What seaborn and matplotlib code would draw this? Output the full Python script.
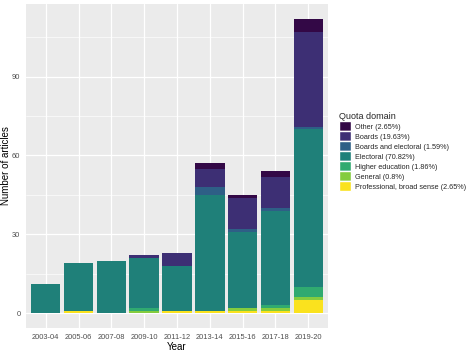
import numpy as np
import pandas as pd
import matplotlib
matplotlib.use("Agg")
import matplotlib.pyplot as plt
import matplotlib.patches as mpatches
import seaborn as sns

years = ["2003-04", "2005-06", "2007-08", "2009-10", "2011-12",
         "2013-14", "2015-16", "2017-18", "2019-20"]
professional = [0, 1, 0, 0, 1, 1, 1, 1, 5]
general = [0, 0, 0, 1, 0, 0, 1, 1, 1]
higher_ed = [0, 0, 0, 1, 0, 0, 0, 1, 4]
electoral = [11, 18, 20, 19, 17, 44, 29, 36, 60]
boards_electoral = [0, 0, 0, 0, 0, 3, 1, 1, 1]
boards = [0, 0, 0, 1, 5, 7, 12, 12, 36]
other = [0, 0, 0, 0, 0, 2, 1, 2, 5]

domains = ["Professional, broad sense (2.65%)", "General (0.8%)",
           "Higher education (1.86%)", "Electoral (70.82%)",
           "Boards and electoral (1.59%)", "Boards (19.63%)", "Other (2.65%)"]
series = [professional, general, higher_ed, electoral, boards_electoral, boards, other]
colors = ["#FAE21E", "#84CC3E", "#30AA70", "#1F8079", "#2E5F86", "#3D2F74", "#330846"]

rows = []
for d, s in zip(domains, series):
    for y, v in zip(years, s):
        rows.append({"Year": y, "domain": d, "n": v})
df = pd.DataFrame(rows)

sns.set_theme(style="darkgrid")
plt.rcParams["font.family"] = ["Liberation Sans", "DejaVu Sans"]

fig = plt.figure(figsize=(4.74, 3.54), dpi=100)
ax = fig.add_axes([26 / 474, 1 - 328 / 354, 302 / 474, 324 / 354])
ax.set_facecolor("#EBEBEB")

bottom = np.zeros(len(years))
for d, c in zip(domains, colors):
    sub = df[df["domain"] == d].set_index("Year").loc[years].reset_index()
    sns.barplot(data=sub, x="Year", y="n", color=c, width=0.9,
                bottom=bottom, ax=ax, saturation=1, zorder=3,
                linewidth=0)
    bottom = bottom + sub["n"].values

ax.set_xlim(-0.6, 8.6)
ax.set_ylim(-5.6, 117.6)
ax.set_yticks([0, 30, 60, 90])
ax.set_yticks([15, 45, 75, 105], minor=True)
ax.grid(True, which="major", color="white", linewidth=0.9, zorder=0)
ax.grid(True, which="minor", axis="y", color="white", linewidth=0.45, zorder=0)
ax.set_axisbelow(True)
for sp in ax.spines.values():
    sp.set_visible(False)
ax.tick_params(axis="both", which="major", length=2.5, width=0.6, color="#333333",
               labelsize=5.4, labelcolor="#4D4D4D", pad=1.5)
ax.tick_params(axis="both", which="minor", length=0)
ax.set_xlabel("Year", fontsize=7, color="black", labelpad=1)
ax.set_ylabel("Number of articles", fontsize=7, color="black")
ax.yaxis.label.set_verticalalignment("center")
ax.yaxis.set_label_coords(-20 / 302, 0.5)

handles = [mpatches.Patch(facecolor=c, label=d) for d, c in zip(domains, colors)][::-1]
leg = fig.legend(handles=handles, title="Quota domain", loc="upper left",
                 bbox_to_anchor=(338 / 474, 1 - 111 / 354), frameon=False,
                 fontsize=5.2, title_fontsize=6.5, handlelength=1.6,
                 handleheight=1.75, handletextpad=0.6, labelspacing=0.0,
                 borderaxespad=0, borderpad=0.2)
leg._legend_box.align = "left"

fig.savefig("out.png", dpi=100)
